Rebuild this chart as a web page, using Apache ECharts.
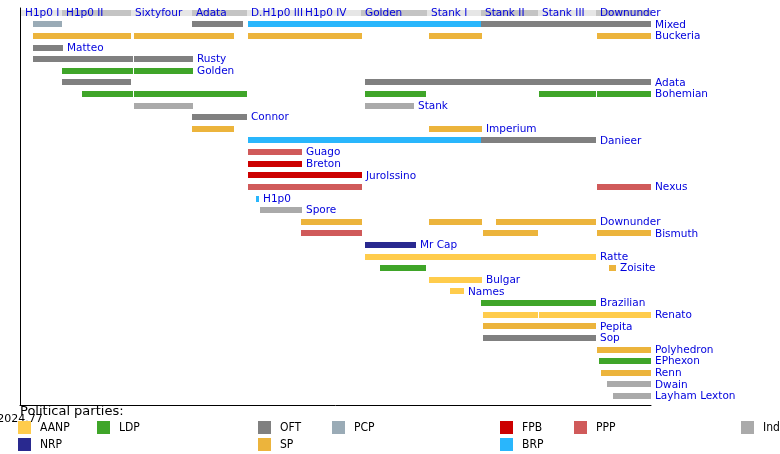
<!DOCTYPE html>
<html>
<head>
<meta charset="utf-8">
<script src="https://cdn.jsdelivr.net/npm/echarts@6/dist/echarts.min.js"></script>
<style>html,body{margin:0;padding:0;background:#fff}#c{width:780px;height:454px}</style>
</head>
<body>
<div id="c"></div>
<script>
// ---------- data ----------
const xMin = 2024.77, xMax = 2087.87;
const xTickLabels = ['2024.77'];

const rowNames = ['', 'Mixed', 'Buckeria', 'Matteo', 'Rusty', 'Golden', 'Adata', 'Bohemian', 'Stank', 'Connor',
  'Imperium', 'Danieer', 'Guago', 'Breton', 'Jurolssino', 'Nexus', 'H1p0', 'Spore', 'Downunder', 'Bismuth',
  'Mr Cap', 'Ratte', 'Zoisite', 'Bulgar', 'Names', 'Brazilian', 'Renato', 'Pepita', 'Sop', 'Polyhedron',
  'EPhexon', 'Renn', 'Dwain', 'Layham Lexton'];

const eraNames = ['H1p0 I', 'H1p0 II', 'Sixtyfour', 'Adata', 'D.H1p0 III', 'H1p0 IV', 'Golden', 'Stank I', 'Stank II', 'Stank III', 'Downunder'];
const eraStarts = [2024.87, 2028.97, 2035.87, 2041.97, 2047.47, 2052.87, 2058.87, 2065.47, 2070.87, 2076.57, 2082.37];
const eraEnds   = [2028.97, 2035.87, 2041.97, 2047.47, 2052.87, 2058.87, 2065.47, 2070.87, 2076.57, 2082.37, 2087.87];

const partyNames = ['AANP', 'NRP', 'LDP', 'OFT', 'SP', 'PCP', 'FPB', 'BRP', 'PPP', 'Independent'];

// [start, end, row]
const barsAANP = [[2059.27,2082.37,21],[2065.67,2070.97,23],[2067.77,2069.17,24],[2071.07,2076.57,26],[2076.67,2087.87,26]];
const barsNRP = [[2059.27,2064.37,20]];
const barsLDP = [[2028.97,2036.07,5],[2036.17,2042.07,5],[2030.97,2036.07,7],[2036.17,2047.47,7],[2059.27,2065.37,7],
  [2076.67,2082.37,7],[2082.47,2087.87,7],[2060.77,2065.37,22],[2070.87,2082.37,25],[2082.67,2087.87,30]];
const barsOFT = [[2041.97,2047.07,1],[2070.87,2087.87,1],[2026.07,2029.07,3],[2026.07,2036.07,4],[2036.17,2042.07,4],
  [2028.97,2035.87,6],[2059.27,2087.87,6],[2041.97,2047.47,9],[2070.87,2082.37,11],[2071.07,2082.37,28]];
const barsSP = [[2026.07,2035.87,2],[2036.17,2046.17,2],[2047.57,2058.97,2],[2065.67,2070.97,2],[2082.47,2087.87,2],
  [2041.97,2046.17,10],[2065.67,2070.97,10],[2052.87,2058.97,18],[2065.67,2070.97,18],[2072.37,2082.37,18],
  [2071.07,2076.57,19],[2082.47,2087.87,19],[2083.67,2084.37,22],[2071.07,2082.37,27],[2082.47,2087.87,29],[2082.87,2087.87,31]];
const barsPCP = [[2026.07,2028.97,1]];
const barsFPB = [[2047.57,2052.97,13],[2047.57,2058.97,14]];
const barsBRP = [[2047.57,2070.87,1],[2047.57,2070.87,11],[2048.37,2048.67,16]];
const barsPPP = [[2047.57,2052.97,12],[2047.57,2058.97,15],[2082.47,2087.87,15],[2052.87,2058.97,19]];
const barsIndep = [[2036.17,2042.07,8],[2059.27,2064.17,8],[2048.77,2052.97,17],[2083.47,2087.87,32],[2084.07,2087.87,33]];

const partyBars = [barsAANP, barsNRP, barsLDP, barsOFT, barsSP, barsPCP, barsFPB, barsBRP, barsPPP, barsIndep];

// ---------- style ----------
const partyColors = ['#ffcc4c', '#29298f', '#3fa529', '#808080', '#ecb43c', '#9aabb6', '#cc0000', '#29b6fc', '#d05a5a', '#aaaaaa'];
const legendPos = [[18,421],[18,438],[97,421],[258,421],[258,438],[332,421],[500,421],[500,438],[574,421],[741,421]];
const eraFills = ['#e6e6e6','#c4c4c4','#e6e6e6','#c4c4c4','#e6e6e6','#e6e6e6','#c4c4c4','#e6e6e6','#c4c4c4','#e6e6e6','#c4c4c4'];
const labelColor = '#0000dd';
const FONT = 'DejaVu Sans';
const LABEL_SIZE = 10.5;
const BAR_H = 6;

// row label anchors: rightmost end per row
const rowEnd = {};
partyBars.forEach(arr => arr.forEach(b => { rowEnd[b[2]] = Math.max(rowEnd[b[2]] || -Infinity, b[1]); }));
const rowLabelData = [];
rowNames.forEach((n, r) => { if (n && rowEnd[r] !== undefined) rowLabelData.push([rowEnd[r], r, n]); });

const eraData = eraNames.map((n, i) => [eraStarts[i], eraEnds[i], 0, n, i]);

function renderBar(params, api) {
  const s = api.coord([api.value(0), api.value(2)]);
  const e = api.coord([api.value(1), api.value(2)]);
  return {
    type: 'rect',
    shape: { x: s[0], y: Math.round(s[1] - BAR_H / 2), width: e[0] - s[0], height: BAR_H },
    style: { fill: api.visual('color') }
  };
}

const series = partyNames.map((name, i) => ({
  name: name,
  type: 'custom',
  renderItem: renderBar,
  encode: { x: [0, 1], y: 2 },
  itemStyle: { color: partyColors[i] },
  data: partyBars[i],
  clip: false,
  silent: true
}));

series.unshift({
  name: 'eras',
  type: 'custom',
  clip: false,
  silent: true,
  encode: { x: [0, 1], y: 2 },
  data: eraData,
  renderItem: function (params, api) {
    const s = api.coord([api.value(0), 0]);
    const e = api.coord([api.value(1), 0]);
    const idx = eraData[params.dataIndex][4];
    const y = Math.round(s[1] - BAR_H / 2);
    return {
      type: 'group',
      children: [
        { type: 'rect', shape: { x: s[0], y: y, width: e[0] - s[0], height: BAR_H }, style: { fill: eraFills[idx] } },
        { type: 'text', x: s[0] + 4, y: s[1] + 0.5, z2: 10,
          style: { text: eraData[params.dataIndex][3], fill: labelColor, fontSize: LABEL_SIZE, fontFamily: FONT, align: 'left', verticalAlign: 'middle' } }
      ]
    };
  }
});

series.push({
  name: 'rowLabels',
  type: 'custom',
  clip: false,
  silent: true,
  encode: { x: 0, y: 1 },
  data: rowLabelData,
  renderItem: function (params, api) {
    const p = api.coord([api.value(0), api.value(1)]);
    return {
      type: 'text', x: p[0] + 4, y: p[1] + 0.5,
      style: { text: rowLabelData[params.dataIndex][2], fill: labelColor, fontSize: LABEL_SIZE, fontFamily: FONT, align: 'left', verticalAlign: 'middle' }
    };
  }
});

const legends = partyNames.map((name, i) => ({
  data: [name],
  left: legendPos[i][0],
  top: legendPos[i][1],
  padding: 0,
  itemWidth: 13,
  itemHeight: 13,
  icon: 'rect',
  selectedMode: false,
  textStyle: { fontSize: 12, fontFamily: 'DejaVu Sans Condensed', color: '#000', padding: [2, 0, 0, 4] }
}));

const chart = echarts.init(document.getElementById('c'), null, { renderer: 'canvas' });
chart.setOption({
  animation: false,
  backgroundColor: '#fff',
  title: {
    text: 'Political parties:',
    left: 20, top: 405, padding: 0,
    textStyle: { fontSize: 13, fontWeight: 'normal', color: '#000', fontFamily: FONT }
  },
  legend: legends,
  grid: { left: 20, right: 129, top: 8, bottom: 49, containLabel: false, outerBoundsMode: 'none' },
  xAxis: {
    type: 'value', min: xMin, max: xMax, interval: +(xMax - xMin).toFixed(2),
    axisLine: { show: true, onZero: false, lineStyle: { color: '#000', width: 1 } },
    axisTick: { show: false },
    splitLine: { show: false },
    axisLabel: {
      showMinLabel: true, showMaxLabel: false, margin: 9,
      fontSize: 11, fontFamily: FONT, color: '#000',
      formatter: (v, idx) => (idx === 0 ? xTickLabels[0] : '')
    }
  },
  yAxis: {
    type: 'value', inverse: true, min: -0.4, max: 33.77,
    axisLine: { show: true, onZero: false, lineStyle: { color: '#000', width: 1 } },
    axisTick: { show: false }, axisLabel: { show: false }, splitLine: { show: false }
  },
  series: series
});
</script>
</body>
</html>
